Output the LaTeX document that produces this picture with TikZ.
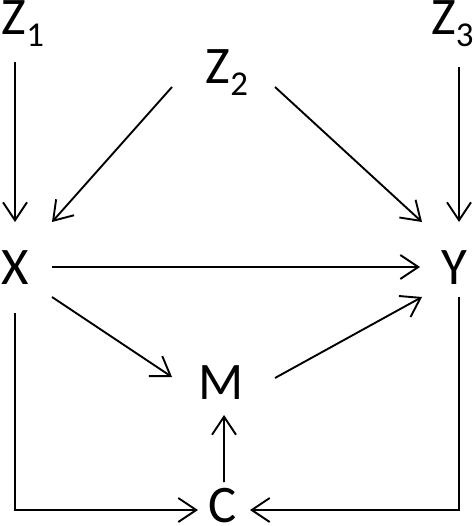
\documentclass[tikz,border=0pt]{standalone}
\usepackage{fontspec}
\setmainfont{Carlito}
\usetikzlibrary{arrows.meta}
\newcommand{\subs}[1]{\rlap{\raisebox{-12bp}{\fontsize{35}{35}\selectfont #1}}}
\begin{document}
\begin{tikzpicture}[x=1bp,y=-1bp,
  lbl/.style={inner sep=0pt, anchor=base, font=\fontsize{53}{60}\selectfont},
  arr/.style={line width=1.9bp, -{Straight Barb[length=18bp,width=24bp]}}]
\useasboundingbox (0,0) rectangle (474,526);
\node[lbl] (Z1) at (14,34.5) {Z\subs{1}};
\node[lbl] (Z2) at (218,84) {Z\subs{2}};
\node[lbl] (Z3) at (443.5,34.5) {Z\subs{3}};
\node[lbl] (X) at (15,284) {X};
\node[lbl] (Y) at (454.5,284) {Y};
\node[lbl] (M) at (221,399) {M};
\node[lbl] (C) at (222.5,522.5) {C};
\draw[arr] ([shift={(1,27.5)}]Z1.base) -- ([shift={(0,-62)}]X.base);
\draw[arr] ([shift={(15.5,32.5)}]Z3.base) -- ([shift={(4.5,-62)}]Y.base);
\draw[arr] ([shift={(-46,3)}]Z2.base) -- ([shift={(37,-62)}]X.base);
\draw[arr] ([shift={(57,3)}]Z2.base) -- ([shift={(-32.5,-62)}]Y.base);
\draw[arr] ([shift={(37,-17)}]X.base) -- ([shift={(-34.5,-17)}]Y.base);
\draw[arr] ([shift={(37,13)}]X.base) -- ([shift={(-49,-22)}]M.base);
\draw[arr] ([shift={(54,-21)}]M.base) -- ([shift={(-32.5,13)}]Y.base);
\draw[arr] ([shift={(1.5,-40.5)}]C.base) -- ([shift={(3,16)}]M.base);
\draw[arr] ([shift={(0,29)}]X.base) |- ([shift={(-24.5,-12.5)}]C.base);
\draw[arr] ([shift={(4.5,13)}]Y.base) |- ([shift={(27.5,-12.5)}]C.base);
\end{tikzpicture}
\end{document}
